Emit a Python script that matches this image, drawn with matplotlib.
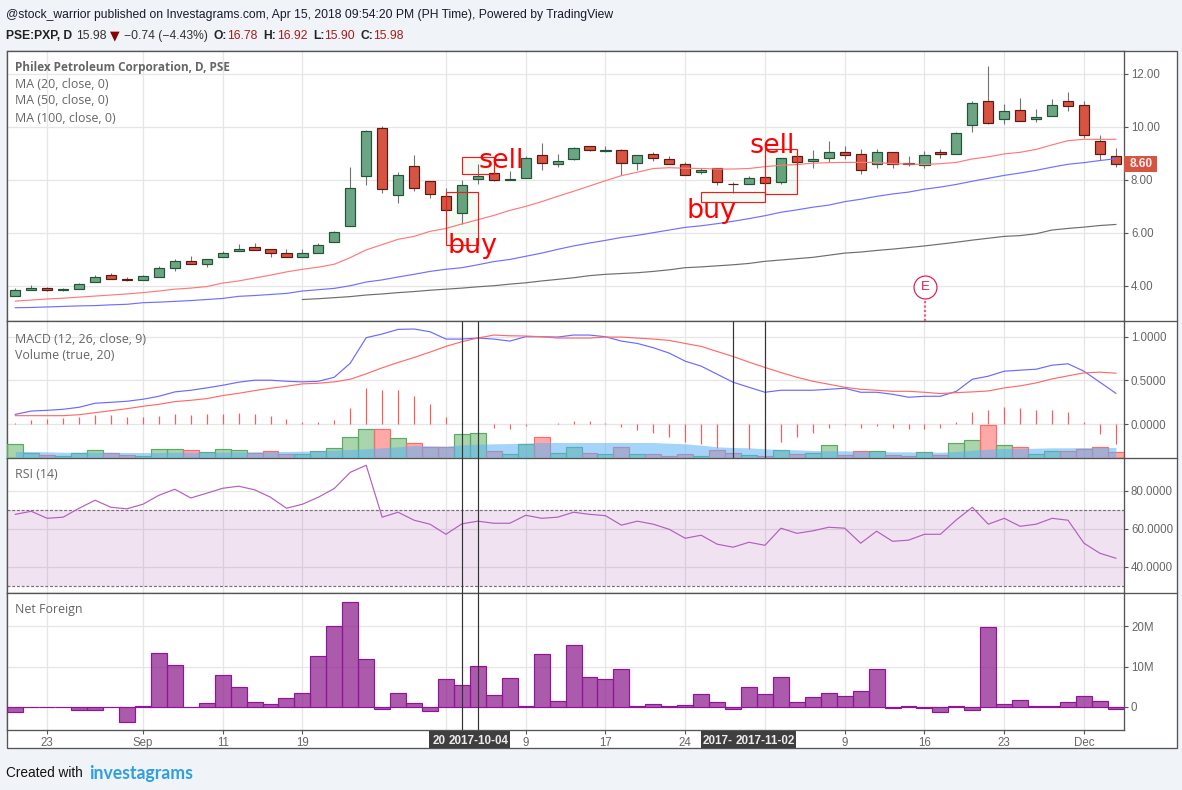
import matplotlib
matplotlib.use('Agg')
import matplotlib.pyplot as plt
from matplotlib.patches import Rectangle
from matplotlib.lines import Line2D

W, H = 1182, 790
PANE_L, PANE_R, FRAME_R = 6.5, 1124, 1176.5

opens = [3.62, 3.85, 3.92, 3.84, 3.89, 4.15, 4.42, 4.26, 4.21, 4.34, 4.68, 4.94, 4.83, 5.09, 5.32, 5.47, 5.40, 5.25,
         5.09, 5.25, 5.66, 6.26, 8.14, 9.96, 7.43, 8.53, 7.96, 7.40, 6.74, 8.03, 8.26, 7.99, 8.06, 8.94, 8.60, 8.78,
         9.25, 9.08, 9.13, 8.64, 8.98, 8.79, 8.60, 8.30, 8.45, 7.85, 7.85, 8.11, 7.92, 8.88, 8.69, 8.81, 9.03, 8.96,
         8.58, 9.03, 8.62, 8.54, 9.03, 8.96, 10.05, 10.96, 10.28, 10.62, 10.28, 10.39, 10.96, 10.81, 9.45, 8.88]
highs = [3.92, 4.04, 3.97, 3.92, 4.10, 4.42, 4.49, 4.34, 4.42, 4.75, 5.02, 5.13, 5.02, 5.32, 5.58, 5.60, 5.40, 5.37,
         5.40, 5.62, 6.08, 8.48, 9.89, 10.04, 8.30, 8.92, 7.96, 7.70, 7.97, 8.58, 8.48, 8.31, 8.88, 9.37, 8.96, 9.23,
         9.28, 9.28, 9.16, 8.94, 9.03, 8.88, 8.68, 8.45, 8.45, 7.90, 8.15, 8.11, 8.83, 9.06, 9.12, 9.46, 9.26, 9.17,
         9.16, 9.03, 8.88, 9.07, 9.16, 9.79, 10.96, 12.29, 10.86, 11.08, 10.67, 11.04, 11.31, 10.96, 9.69, 9.18]
lows = [3.62, 3.85, 3.80, 3.80, 3.89, 4.15, 4.25, 4.18, 4.21, 4.34, 4.57, 4.83, 4.72, 5.09, 5.32, 5.36, 5.08, 5.09,
        5.09, 5.25, 5.66, 6.26, 7.79, 7.50, 7.12, 7.57, 7.31, 6.87, 6.34, 7.85, 7.95, 7.99, 8.06, 8.36, 8.48, 8.75,
        9.08, 9.03, 8.18, 8.36, 8.70, 8.60, 8.19, 8.23, 7.80, 7.50, 7.85, 7.89, 7.85, 8.64, 8.42, 8.67, 8.79, 8.21,
        8.42, 8.45, 8.52, 8.45, 8.83, 8.96, 9.81, 10.08, 10.08, 10.20, 10.19, 10.39, 10.57, 9.58, 8.73, 8.49]
closes = [3.85, 3.92, 3.84, 3.89, 4.08, 4.34, 4.25, 4.21, 4.38, 4.68, 4.94, 4.83, 5.02, 5.25, 5.40, 5.36, 5.25, 5.09,
          5.25, 5.55, 6.04, 7.70, 9.85, 7.66, 8.19, 7.70, 7.47, 6.87, 7.81, 8.15, 7.99, 8.04, 8.83, 8.64, 8.72, 9.21,
          9.13, 9.10, 8.64, 8.94, 8.83, 8.60, 8.19, 8.38, 7.92, 7.84, 8.08, 7.89, 8.83, 8.65, 8.77, 9.03, 8.94, 8.35,
          9.03, 8.58, 8.58, 8.92, 8.96, 9.75, 10.88, 10.13, 10.58, 10.20, 10.35, 10.81, 10.77, 9.67, 8.96, 8.58]

ma20 = [3.42, 3.46, 3.50, 3.53, 3.57, 3.61, 3.65, 3.69, 3.74, 3.80, 3.87, 3.91, 3.97, 4.10, 4.18, 4.29, 4.40, 4.52,
        4.62, 4.70, 4.81, 5.06, 5.35, 5.55, 5.75, 5.86, 6.05, 6.16, 6.33, 6.49, 6.65, 6.84, 6.99, 7.17, 7.37, 7.56,
        7.76, 7.96, 8.15, 8.28, 8.42, 8.45, 8.43, 8.42, 8.40, 8.40, 8.42, 8.49, 8.54, 8.57, 8.62, 8.64, 8.65, 8.65,
        8.65, 8.60, 8.59, 8.57, 8.60, 8.65, 8.78, 8.86, 8.97, 9.03, 9.14, 9.31, 9.47, 9.52, 9.52, 9.52]
ma50 = [3.17, 3.18, 3.20, 3.22, 3.24, 3.25, 3.28, 3.30, 3.36, 3.38, 3.41, 3.44, 3.48, 3.52, 3.60, 3.63, 3.67, 3.71,
        3.80, 3.85, 3.90, 4.00, 4.14, 4.22, 4.33, 4.43, 4.54, 4.62, 4.68, 4.79, 4.91, 4.99, 5.11, 5.23, 5.37, 5.50,
        5.61, 5.71, 5.82, 5.90, 6.00, 6.10, 6.20, 6.26, 6.34, 6.43, 6.53, 6.64, 6.77, 6.86, 6.96, 7.04, 7.17, 7.26,
        7.37, 7.46, 7.53, 7.64, 7.72, 7.82, 7.94, 8.05, 8.16, 8.25, 8.35, 8.47, 8.58, 8.64, 8.72, 8.79]
ma100 = [3.48, 3.51, 3.55, 3.59, 3.65, 3.69, 3.74, 3.78, 3.83, 3.87, 3.91, 3.96, 4.00, 4.06, 4.11, 4.18, 4.24, 4.30,
         4.38, 4.43, 4.46, 4.49, 4.54, 4.60, 4.68, 4.71, 4.75, 4.79, 4.84, 4.92, 4.97, 5.02, 5.07, 5.15, 5.23, 5.27,
         5.33, 5.38, 5.44, 5.50, 5.57, 5.64, 5.72, 5.79, 5.86, 5.89, 5.96, 6.10, 6.16, 6.21, 6.27, 6.31]
MA100_START = 18

macd = [0.111, 0.149, 0.157, 0.169, 0.192, 0.238, 0.249, 0.261, 0.284, 0.318, 0.368, 0.387, 0.414, 0.444, 0.479,
        0.502, 0.502, 0.490, 0.483, 0.490, 0.536, 0.697, 0.989, 1.031, 1.084, 1.088, 1.057, 0.973, 0.973, 0.985,
        0.973, 0.950, 1.000, 1.000, 0.996, 1.019, 1.019, 1.000, 0.950, 0.923, 0.874, 0.812, 0.720, 0.663, 0.571,
        0.479, 0.421, 0.364, 0.387, 0.387, 0.387, 0.398, 0.410, 0.364, 0.364, 0.341, 0.307, 0.318, 0.318, 0.375,
        0.513, 0.548, 0.605, 0.617, 0.628, 0.674, 0.690, 0.605, 0.479, 0.352]
signal = [0.096, 0.096, 0.096, 0.096, 0.107, 0.130, 0.153, 0.176, 0.203, 0.226, 0.257, 0.272, 0.291, 0.326, 0.352,
          0.383, 0.410, 0.433, 0.460, 0.467, 0.483, 0.513, 0.575, 0.644, 0.705, 0.762, 0.824, 0.889, 0.943, 0.985,
          1.019, 1.011, 1.008, 1.000, 0.985, 0.985, 0.985, 0.996, 0.996, 0.985, 0.973, 0.958, 0.923, 0.889, 0.831,
          0.774, 0.709, 0.648, 0.590, 0.536, 0.490, 0.456, 0.421, 0.398, 0.387, 0.375, 0.375, 0.364, 0.349, 0.360,
          0.368, 0.379, 0.414, 0.437, 0.471, 0.517, 0.552, 0.586, 0.594, 0.582]
hist = [0.008, 0.046, 0.057, 0.069, 0.080, 0.100, 0.100, 0.077, 0.077, 0.092, 0.115, 0.103, 0.111, 0.115, 0.126,
        0.115, 0.092, 0.057, 0.019, 0.019, 0.046, 0.180, 0.410, 0.387, 0.391, 0.322, 0.230, 0.080, 0.027, 0.0,
        -0.046, -0.057, -0.019, 0.0, 0.011, 0.034, 0.034, 0.011, -0.031, -0.069, -0.103, -0.149, -0.207, -0.230,
        -0.276, -0.299, -0.287, -0.345, -0.207, -0.149, -0.103, -0.046, -0.011, -0.046, -0.023, -0.046, -0.057,
        -0.057, -0.046, 0.023, 0.138, 0.161, 0.195, 0.184, 0.161, 0.161, 0.138, 0.019, -0.115, -0.230]

volume = [14, 5, 3, 2, 5, 8, 5, 3, 2, 9, 9, 8, 6, 9, 8, 5, 7, 4, 4, 7, 10, 21, 29, 29, 20, 15, 11, 11, 24, 25, 7, 4,
          14, 21, 5, 11, 5, 4, 11, 4, 4, 2, 4, 2, 8, 5, 3, 2, 8, 4, 5, 13, 3, 7, 7, 3, 2, 6, 3, 15, 18, 33, 13, 11,
          4, 7, 7, 9, 11, 6]
volume_ma = [6, 6, 5.7, 5.3, 5.3, 5.3, 5.3, 5, 5, 5, 5.3, 5.3, 5.3, 5.3, 5.7, 5.7, 6, 6, 6.3, 6.7, 7.3, 8, 8.7, 9.7,
             10.7, 12, 11.7, 11.3, 12.7, 13.3, 13.7, 14, 14.3, 15, 15, 15, 15, 15, 15, 15, 15, 14.3, 13.7, 12.3, 10.7,
             10, 9.7, 8.7, 8, 7.7, 7, 6.7, 6.7, 6.3, 6, 5.7, 5.7, 5.3, 5.3, 6, 7.3, 8.3, 9, 9, 9.3, 9.7, 9.7, 10,
             10, 10]

rsi = [67.5, 69.1, 65.4, 66.0, 70.7, 74.9, 71.2, 70.4, 72.8, 77.5, 80.7, 76.1, 78.6, 81.2, 82.3, 80.4, 76.5, 70.7,
       72.8, 76.5, 81.1, 89.6, 93.3, 66.0, 68.6, 64.4, 62.3, 57.0, 62.5, 63.9, 62.8, 62.8, 67.0, 65.4, 66.0, 68.6,
       67.5, 66.8, 61.8, 63.9, 62.3, 59.6, 54.9, 56.5, 51.8, 50.2, 52.8, 51.2, 60.2, 57.5, 58.8, 60.7, 60.2, 52.3,
       58.6, 53.3, 53.9, 57.0, 57.0, 64.6, 71.2, 62.3, 65.4, 61.2, 62.3, 65.4, 64.4, 52.3, 47.0, 44.4]

net_foreign = [-1.2, -0.1, -0.05, -0.05, -0.7, -0.9, -0.05, -3.8, 0.15, 13.4, 10.4, -0.1, 0.9, 7.9, 4.9, 1.2, 0.7,
               2.2, 3.4, 12.6, 20.1, 26.1, 11.9, -0.6, 3.4, 0.9, -1.1, 6.9, 5.4, 10.1, 2.9, 7.1, 0.15, 13.1, 1.4,
               15.4, 7.4, 6.9, 9.4, 0.15, 0.7, 0.15, 0.4, 3.2, 1.2, -0.6, 4.9, 3.2, 7.4, 1.2, 2.4, 3.4, 2.7, 3.9,
               9.4, -0.3, 0.15, -0.3, -1.4, 0.15, -0.8, 19.8, 0.7, 1.7, 0.1, 0.1, 1.2, 2.7, 1.4, -0.6]

date_ticks = [2, 8, 13, 18, 27, 32, 37, 42, 47, 52, 57, 62, 67]
date_labels = ['23', 'Sep', '11', '19', '', '9', '17', '24', '', '9', '16', '23', 'Dec']

GRID = '#e6e6e6'
TEXT = '#666666'
FRAME = '#555555'
CURSOR = '#333333'
LABEL_FONT = 'Liberation Sans'
NOTE_FONT = 'Open Sans'

n = len(closes)
xs = list(range(n))

fig = plt.figure(figsize=(W / 100, H / 100), dpi=100, facecolor='#f0f3f7')


def fx(px):
    return px / W


def fy(py):
    return 1 - py / H


def put(x, y, s, **kw):
    kw.setdefault('family', LABEL_FONT)
    kw.setdefault('va', 'center')
    fig.text(fx(x), fy(y), s, **kw)


def pane(top, bottom, ylim, yticks, ylabels):
    ax = fig.add_axes([fx(PANE_L), fy(bottom), (PANE_R - PANE_L) / W, (bottom - top) / H], zorder=2)
    ax.set_xlim(-0.552, 69.51)
    ax.set_ylim(*ylim)
    ax.set_xticks(date_ticks)
    ax.set_yticks(yticks)
    ax.set_yticklabels(ylabels, family=LABEL_FONT, fontsize=8.3, color=TEXT)
    ax.yaxis.tick_right()
    ax.tick_params(axis='y', length=3, width=0.8, color=FRAME, pad=2)
    ax.tick_params(axis='x', length=0, labelbottom=False)
    ax.grid(True, color=GRID, lw=0.9)
    ax.set_axisbelow(True)
    for sp in ax.spines.values():
        sp.set_color(FRAME)
        sp.set_linewidth(0.95)
    return ax


# page frame behind the panes
fig.add_artist(Rectangle((fx(PANE_L), fy(748)), (FRAME_R - PANE_L) / W, (748 - 51) / H, transform=fig.transFigure,
                         facecolor='white', edgecolor=FRAME, lw=0.95, zorder=0))

ax_price = pane(51, 321, (2.67, 12.85), [4, 6, 8, 10, 12], ['4.00', '6.00', '8.00', '10.00', '12.00'])
ax_macd = pane(321, 457.5, (-0.383, 1.18), [0, 0.5, 1], ['0.0000', '0.5000', '1.0000'])
ax_rsi = pane(457.5, 593, (26.1, 97.4), [40, 60, 80], ['40.0000', '60.0000', '80.0000'])
ax_net = pane(593, 730, (-5.8, 28.3), [0, 10, 20], ['0', '10M', '20M'])

# candles
for i in xs:
    up = closes[i] >= opens[i]
    ax_price.plot([i, i], [lows[i], highs[i]], color='#737375', lw=0.8, zorder=3, solid_capstyle='butt')
    ax_price.bar(i, abs(closes[i] - opens[i]), bottom=min(opens[i], closes[i]), width=0.64,
                 facecolor='#6ba583' if up else '#d75442', edgecolor='#225437' if up else '#5b1a13',
                 lw=0.85, zorder=4)

ax_price.plot(xs, ma20, color='#ff7a7a', lw=0.85, zorder=5)
ax_price.plot(xs, ma50, color='#7070ff', lw=0.85, zorder=5)
ax_price.plot(xs[MA100_START:], ma100, color='#6e6e6e', lw=0.85, zorder=5)

# drawn trade ranges
for x0, x1, y0, y1 in [(27, 29, 5.55, 7.55), (28, 30, 8.23, 8.87), (43, 47, 7.17, 7.55), (47, 49, 7.47, 9.17)]:
    ax_price.add_patch(Rectangle((x0, y0), x1 - x0, y1 - y0, facecolor=(0.0, 0.5, 0.0, 0.04), edgecolor='#f01c1c',
                                 lw=0.85, zorder=6))
for x, y, s in [(27.1, 5.25, 'buy'), (29.07, 8.43, 'sell'), (42.05, 6.55, 'buy'), (46.03, 9.02, 'sell')]:
    ax_price.text(x, y, s, color='#ff0000', fontsize=19.4, family='DejaVu Sans', va='baseline', zorder=7)

# earnings marker
ax_price.plot([57.05, 57.05], [2.67, 3.55], color='#ec5f8c', lw=1.6, ls=(0, (1, 1)), zorder=5)
ax_price.plot(57.05, 3.97, marker='o', ms=16.5, mfc='white', mec='#e6194b', mew=0.85, zorder=6)
ax_price.text(57.05, 3.97, 'E', color='#e6194b', fontsize=9.5, family=LABEL_FONT, ha='center', va='center', zorder=7)

# MACD pane
ax_macd.vlines(xs, 0, hist, color='#ff5a5a', lw=0.85, zorder=3)
ax_macd.plot(xs, macd, color='#6a6aff', lw=0.85, zorder=4)
ax_macd.plot(xs, signal, color='#ff6b6b', lw=0.85, zorder=4)

# volume shares the MACD pane on its own scale
ax_vol = fig.add_axes(ax_macd.get_position(), zorder=3, sharex=ax_macd)
ax_vol.set_ylim(0, 136.5)
ax_vol.axis('off')
for i in xs:
    up = closes[i] >= opens[i]
    ax_vol.bar(i, volume[i], width=1.0, facecolor=(0.34, 0.67, 0.35, 0.5) if up else (1.0, 0.32, 0.32, 0.5),
               edgecolor='#5aab62' if up else '#ff6b6b', lw=0.85, zorder=2)
ax_vol.fill_between(xs, 0, volume_ma, color='#5ab2f5', alpha=0.55, lw=0, zorder=3)

# RSI pane
ax_rsi.axhspan(30, 70, color='#8e1599', alpha=0.12, lw=0, zorder=1)
ax_rsi.axhline(70, color='#7a6c7a', lw=0.85, ls=(0, (2.5, 1.5)), zorder=2)
ax_rsi.axhline(30, color='#7a6c7a', lw=0.85, ls=(0, (2.5, 1.5)), zorder=2)
ax_rsi.plot(xs, rsi, color='#b25fbd', lw=0.85, zorder=3)

# net foreign buying in millions
ax_net.bar(xs, net_foreign, width=1.0, facecolor=(0.55, 0.1, 0.55, 0.72), edgecolor='#8e1599', lw=0.85, zorder=3)

# crosshair cursors
for ax in (ax_rsi, ax_net):
    ax.axvline(28, color=CURSOR, lw=0.85, zorder=8)
    ax.axvline(29, color=CURSOR, lw=0.85, zorder=8)
ax_vol.vlines([28, 29, 45, 47], 0, 136.5, color=CURSOR, lw=0.85, zorder=8)

# date axis
ax_net.tick_params(axis='x', length=3, width=0.8, color=FRAME, labelbottom=True, pad=2)
ax_net.set_xticklabels(date_labels, family=LABEL_FONT, fontsize=8.3, color=TEXT)

for y in (321, 457.5, 593):
    fig.add_artist(Line2D([fx(PANE_R), fx(FRAME_R)], [fy(y), fy(y)], color=FRAME, lw=0.95, zorder=3))

# date flags under the cursors
for x0, x1 in [(429, 509.5), (701, 796)]:
    fig.add_artist(Rectangle((fx(x0), fy(747.5)), (x1 - x0) / W, 17 / H, transform=fig.transFigure,
                             facecolor='#3f3f3f', edgecolor='none', zorder=5))
for x, s in [(439, '20'), (479, '2017-10-04'), (718, '2017-'), (765, '2017-11-02')]:
    put(x, 741, s, color='#eeeeee', fontsize=8.4, weight='bold', ha='center', zorder=6)

# last price flag
fig.add_artist(Rectangle((fx(PANE_R), fy(172)), 33 / W, 16 / H, transform=fig.transFigure,
                         facecolor='#d75442', edgecolor='none', zorder=5))
put(1141, 164, '8.60', color='#fff0ee', fontsize=8.6, weight='bold', ha='center', zorder=6)

# indicator legends
put(15, 67, 'Philex Petroleum Corporation, D, PSE', family=NOTE_FONT, fontsize=8.5, color=TEXT, weight='bold', zorder=6)
for y, s in [(84, 'MA (20, close, 0)'), (101, 'MA (50, close, 0)'), (118, 'MA (100, close, 0)'),
             (339, 'MACD (12, 26, close, 9)'), (356, 'Volume (true, 20)'), (475, 'RSI (14)'), (610, 'Net Foreign')]:
    put(15, y, s, family=NOTE_FONT, fontsize=8.95, color=TEXT, zorder=6)

# header
put(6, 15, '@stock_warrior published on Investagrams.com, Apr 15, 2018 09:54:20 PM (PH Time), Powered by TradingView',
    fontsize=8.77, color='#1a1a2a')
put(6, 36, 'PSE:PXP, D', fontsize=8.7, weight='bold', color='#222222')
put(76, 36, '15.98', fontsize=8.7, color='#333333')
put(115, 36, '\u25bc', family='DejaVu Sans', fontsize=9, color='#8b0000', ha='center')
put(124, 36, '\u22120.74 (\u22124.43%)', fontsize=8.7, color='#333333')
for x_key, key, x_val, val in [(213, 'O:', 227, '16.78'), (263, 'H:', 277, '16.92'),
                               (313, 'L:', 324, '15.90'), (360, 'C:', 373, '15.98')]:
    put(x_key, 36, key, fontsize=8.7, weight='bold', color='#222222')
    put(x_val, 36, val, fontsize=8.7, color='#a61c1c')

# footer
put(6, 773, 'Created with', fontsize=9.8, color='#111111')
put(89.5, 773, 'investagrams', family='Lato', fontsize=12.7, weight='bold', color='#2f9fe0')

fig.savefig('out.png', dpi=100, facecolor=fig.get_facecolor())
